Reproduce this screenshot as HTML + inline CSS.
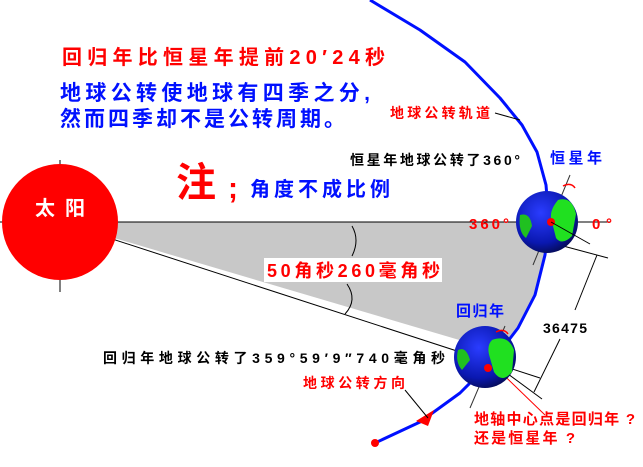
<!DOCTYPE html>
<html><head><meta charset="utf-8"><style>
body{margin:0;background:#fff;width:643px;height:462px;overflow:hidden}
svg text{font-family:"Liberation Sans","Noto Sans CJK SC",sans-serif;font-weight:bold}
</style></head><body>
<svg width="643" height="462" viewBox="0 0 643 462" xmlns="http://www.w3.org/2000/svg">
<defs>
<radialGradient id="e" cx="0.4" cy="0.35" r="0.7"><stop offset="0" stop-color="#2a3cff"/><stop offset="0.7" stop-color="#0a18b0"/><stop offset="1" stop-color="#050a50"/></radialGradient>
</defs>
<polygon points="60,222 549,222 545,255 535,295 518,328 500,352 60,222" fill="#c8c8c8"/>
<line x1="0" y1="222" x2="610" y2="222" stroke="#000" stroke-width="1"/>
<line x1="60" y1="160" x2="60" y2="292" stroke="#000"/>
<line x1="60" y1="222" x2="540" y2="378" stroke="#000"/>
<circle cx="60" cy="222" r="58" fill="#f00"/>
<text x="35" y="215" font-size="20" fill="#fff" textLength="50">太阳</text>
<polyline points="370,0 420,30 465,62 500,98 522,125 537,152 546,185 549,222 545,255 535,295 518,328 495,358 460,393 420,422 375,443" fill="none" stroke="#0010ff" stroke-width="3" stroke-linejoin="round"/>
<circle cx="375" cy="443" r="4" fill="#f00"/>
<polygon points="416,421 434,410 428,426" fill="#f00"/>
<line x1="405" y1="390" x2="428" y2="418" stroke="#000"/>
<text x="62" y="64" font-size="20" fill="#f00" textLength="323">回归年比恒星年提前20′24秒</text>
<text x="60" y="100" font-size="21" fill="#0010ff" textLength="310">地球公转使地球有四季之分,</text>
<text x="60" y="126" font-size="21" fill="#0010ff" textLength="285">然而四季却不是公转周期。</text>
<text x="176" y="196" font-size="40" fill="#f00">注</text>
<text x="228" y="198" font-size="30" fill="#f00">;</text>
<text x="250" y="196" font-size="20" fill="#0010ff" textLength="140">角度不成比例</text>
<text x="390" y="118" font-size="14" fill="#f00" textLength="100">地球公转轨道</text>
<line x1="495" y1="113" x2="520" y2="120" stroke="#000"/>
<text x="350" y="165" font-size="14" fill="#000" textLength="170">恒星年地球公转了360°</text>
<text x="550" y="163" font-size="15" fill="#0010ff" textLength="52">恒星年</text>
<text x="469" y="229" font-size="15" fill="#f00" textLength="40">360°</text>
<text x="592" y="229" font-size="15" fill="#f00" textLength="20">0°</text>
<rect x="264" y="258" width="178" height="24" fill="#fff"/>
<text x="267" y="277" font-size="18" fill="#f00" textLength="173">50角秒260毫角秒</text>
<path d="M352,226 Q360,240 352,256" fill="none" stroke="#000"/>
<path d="M347,284 Q358,300 345,314" fill="none" stroke="#000"/>
<text x="456" y="316" font-size="15" fill="#0010ff" textLength="48">回归年</text>
<text x="103" y="363" font-size="14" fill="#000" textLength="342">回归年地球公转了359°59′9″740毫角秒</text>
<text x="303" y="388" font-size="14" fill="#f00" textLength="102">地球公转方向</text>
<text x="543" y="333" font-size="14" fill="#000" textLength="44">36475</text>
<line x1="560" y1="339" x2="534" y2="392" stroke="#000"/>
<line x1="597" y1="255" x2="575" y2="310" stroke="#000"/>
<line x1="552" y1="243" x2="608" y2="258" stroke="#000"/>
<line x1="485" y1="357" x2="542" y2="399" stroke="#000"/>
<line x1="485" y1="357" x2="545" y2="415" stroke="#f00"/>
<text x="474" y="424" font-size="15" fill="#f00" textLength="161">地轴中心点是回归年 ?</text>
<text x="474" y="443" font-size="15" fill="#f00" textLength="101">还是恒星年 ?</text>
<!-- earth 1 -->
<line x1="570" y1="175" x2="533" y2="265" stroke="#333"/>
<circle cx="547" cy="222" r="31" fill="url(#e)"/>
<path d="M558,200 Q572,196 576,214 L572,236 Q562,246 556,238 L552,222 Q548,212 558,200Z" fill="#20e020"/>
<path d="M520,215 Q530,212 532,226 L526,238 Q518,232 520,215Z" fill="#20c020"/>
<circle cx="551" cy="222" r="4" fill="#f00"/>
<line x1="551" y1="222" x2="590" y2="244" stroke="#000"/>
<path d="M563,186 q8,-4 12,2" fill="none" stroke="#f00" stroke-width="1.5"/>
<!-- earth 2 -->
<line x1="505" y1="326" x2="470" y2="408" stroke="#333"/>
<circle cx="485" cy="357" r="31" fill="url(#e)"/>
<path d="M492,340 Q508,334 514,350 L512,372 Q502,384 494,372 L490,358 Q486,346 492,340Z" fill="#20e020"/>
<path d="M458,350 Q466,346 470,360 L462,370 Q455,362 458,350Z" fill="#20c020"/>
<circle cx="488" cy="368" r="4" fill="#f00"/>
<path d="M496,332 q8,-4 12,2" fill="none" stroke="#f00" stroke-width="1.5"/>
</svg>
</body></html>
